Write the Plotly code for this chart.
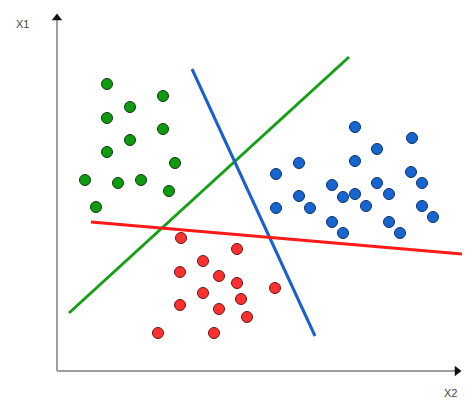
import plotly.graph_objects as go

# Data (origin at the axis corner; x = X2, y = X1)
green_x = [50, 106, 73, 50, 106, 73, 50, 118, 28, 61, 84, 112, 39]
green_y = [287, 275, 264, 253, 242, 231, 219, 208, 191, 188, 191, 180, 164]

blue_x = [298, 355, 320, 242, 298, 219, 354, 365, 320, 275, 242, 286, 298, 332,
          219, 253, 309, 365, 376, 275, 332, 286, 343]
blue_y = [244, 233, 222, 208, 210, 197, 199, 188, 188, 186, 175, 174, 177, 177,
          163, 163, 165, 165, 154, 149, 149, 138, 138]

red_x = [124, 180, 146, 123, 162, 180, 218, 146, 184, 123, 162, 190, 101, 157]
red_y = [133, 122, 110, 99, 95, 88, 83, 78, 72, 66, 62, 54, 38, 38]

# Separating lines (endpoints)
green_line_x = [12, 292]
green_line_y = [58, 314]
blue_line_x = [135, 258]
blue_line_y = [302, 35]
red_line_x = [34, 405]
red_line_y = [149, 117]

# Axis extents
x_axis_end = 403
y_axis_end = 356

fig = go.Figure()

# axes (gray lines)
fig.add_trace(go.Scatter(x=[0, 0], y=[0, y_axis_end - 4], mode="lines",
                         line=dict(color="#a0a0a0", width=2), hoverinfo="skip"))
fig.add_trace(go.Scatter(x=[0, x_axis_end - 4], y=[0, 0], mode="lines",
                         line=dict(color="#a0a0a0", width=2), hoverinfo="skip"))
# arrowheads
fig.add_trace(go.Scatter(x=[0], y=[y_axis_end - 3], mode="markers",
                         marker=dict(symbol="triangle-up", size=9, color="#111111"),
                         hoverinfo="skip"))
fig.add_trace(go.Scatter(x=[x_axis_end - 3], y=[0], mode="markers",
                         marker=dict(symbol="triangle-right", size=9, color="#111111"),
                         hoverinfo="skip"))

# lines
fig.add_trace(go.Scatter(x=green_line_x, y=green_line_y, mode="lines",
                         line=dict(color="#14a014", width=3)))
fig.add_trace(go.Scatter(x=blue_line_x, y=blue_line_y, mode="lines",
                         line=dict(color="#1a5fd0", width=3)))
fig.add_trace(go.Scatter(x=red_line_x, y=red_line_y, mode="lines",
                         line=dict(color="#ff1a1a", width=3)))

# points
fig.add_trace(go.Scatter(x=green_x, y=green_y, mode="markers",
                         marker=dict(size=11, color="#109a10",
                                     line=dict(color="#0b3d0b", width=1))))
fig.add_trace(go.Scatter(x=blue_x, y=blue_y, mode="markers",
                         marker=dict(size=11, color="#1766d0",
                                     line=dict(color="#0b2f6b", width=1))))
fig.add_trace(go.Scatter(x=red_x, y=red_y, mode="markers",
                         marker=dict(size=11, color="#ff3030",
                                     line=dict(color="#6a1515", width=1))))

fig.add_annotation(x=-35, y=347, text="X1", showarrow=False,
                   font=dict(family="Liberation Sans, Arial", size=11, color="#444444"))
fig.add_annotation(x=393, y=-22, text="X2", showarrow=False,
                   font=dict(family="Liberation Sans, Arial", size=11, color="#444444"))

# page body adds an 8px offset, so the figure is 8px smaller and ranges shifted
fig.update_layout(
    width=466, height=395,
    margin=dict(l=0, r=0, t=0, b=0),
    plot_bgcolor="white", paper_bgcolor="white",
    showlegend=False,
    xaxis=dict(range=[-49, 417], visible=False, fixedrange=True),
    yaxis=dict(range=[-32, 363], visible=False, fixedrange=True),
)

fig.write_html("out.html")
